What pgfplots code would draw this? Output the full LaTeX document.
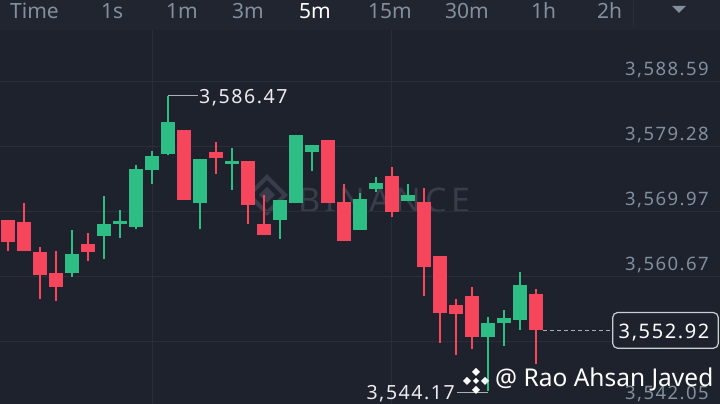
\documentclass[border=0pt]{standalone}
\usepackage{pgfplots}
\pgfplotsset{compat=1.18}
\usepackage{pgfplotstable}
\usepackage{fontspec}
\setmainfont{Noto Sans}
\newfontfamily\pf[LetterSpace=8]{Noto Sans}
\newfontfamily\wf[LetterSpace=12]{Noto Sans}
\definecolor{bg}{RGB}{30,34,45}
\definecolor{barbg}{RGB}{33,37,47}
\definecolor{gridc}{RGB}{42,46,57}
\definecolor{lab}{RGB}{132,142,156}
\definecolor{gup}{RGB}{46,189,133}
\definecolor{gdn}{RGB}{246,70,93}
\definecolor{wtxt}{RGB}{234,236,239}
\definecolor{wm}{RGB}{56,61,73}
\definecolor{ann}{RGB}{170,176,186}

\pgfplotstableread{
x open high low close
72 3561.10 3567.26 3560.53 3563.82
104 3566.40 3572.13 3563.10 3568.12
120 3568.12 3570.12 3566.11 3568.55
136 3567.69 3576.57 3567.40 3575.99
152 3575.85 3578.57 3573.85 3577.86
168 3578.14 3586.47 3578.00 3582.73
200 3571.12 3577.43 3567.40 3577.43
232 3576.71 3579.00 3572.99 3577.14
280 3568.69 3571.55 3565.97 3571.55
296 3571.12 3580.86 3571.12 3580.86
312 3578.43 3579.43 3575.71 3579.43
360 3567.26 3572.56 3567.26 3571.70
376 3573.13 3574.85 3572.70 3573.99
408 3571.41 3573.85 3571.41 3572.27
488 3551.93 3554.80 3544.17 3553.94
504 3553.94 3555.80 3550.64 3554.65
520 3554.37 3561.24 3552.93 3559.38
}\greentab

\pgfplotstableread{
x open high low close
8 3568.69 3568.69 3564.25 3565.58
24 3568.40 3571.12 3564.29 3564.29
40 3564.11 3564.82 3557.37 3560.81
56 3561.10 3564.25 3557.09 3559.09
88 3565.25 3566.83 3562.82 3564.11
184 3581.58 3581.58 3571.55 3571.55
216 3578.43 3579.86 3575.28 3577.57
248 3577.14 3577.14 3568.12 3570.84
264 3568.12 3572.27 3566.54 3566.54
328 3580.15 3580.15 3571.12 3571.12
344 3571.27 3573.85 3565.68 3565.68
392 3574.99 3576.28 3569.12 3569.84
424 3571.27 3573.27 3557.80 3561.96
440 3563.50 3563.50 3551.07 3555.37
456 3556.51 3557.37 3549.40 3555.23
472 3557.80 3559.09 3550.21 3551.93
536 3558.09 3558.81 3548.06 3552.92
}\redtab

\pgfplotsset{candle/.style={only marks, draw=none, fill=none, mark=none, mark size=0pt,
  mark options={draw opacity=0, fill opacity=0},
  error bars/.cd, y dir=plus, y explicit, error mark=none}}

\begin{document}
\begin{tikzpicture}
\useasboundingbox (0,0) rectangle (720bp,404bp);
\fill[bg] (0,0) rectangle (720bp,404bp);
% faint watermark
\begin{scope}[x=1bp,y=-1bp,shift={(0,404bp)}]
  \draw[wm, line width=4bp] (267,177) -- (285,195) -- (267,213) -- (249,195) -- cycle;
  \fill[wm] (267,187) -- (275,195) -- (267,203) -- (259,195) -- cycle;
  \node[anchor=base west, inner sep=0pt, text=wm, font=\wf\bfseries\fontsize{34bp}{36bp}\selectfont] at (298,213) {BINANCE};
\end{scope}

\begin{axis}[at={(0,0)}, anchor=south west,
  width=720bp, height=404bp, scale only axis,
  xmin=0, xmax=720, ymin=3542.34, ymax=3600.20,
  axis line style={draw=none},
  major tick length=0pt,
  xtick={152.7,391.7}, ytick={3588.59,3579.28,3569.97,3560.67,3551.36},
  xticklabels={}, yticklabels={},
  grid=major, grid style={draw=gridc, line width=0.8bp},
]
% wicks
\addplot[candle, error bar style={draw=gup, line width=1.5bp}]
  table[x=x, y=low, y error plus expr=\thisrow{high}-\thisrow{low}] {\greentab};
\addplot[candle, error bar style={draw=gdn, line width=1.5bp}]
  table[x=x, y=low, y error plus expr=\thisrow{high}-\thisrow{low}] {\redtab};
% bodies
\addplot[candle, error bar style={draw=gup, line width=14bp}]
  table[x=x, y=open, y error plus expr=\thisrow{close}-\thisrow{open}] {\greentab};
\addplot[candle, error bar style={draw=gdn, line width=14bp}]
  table[x=x, y=close, y error plus expr=\thisrow{open}-\thisrow{close}] {\redtab};
\end{axis}

\begin{scope}[x=1bp,y=-1bp,shift={(0,404bp)}]
  % top bar
  \fill[barbg] (0,0) rectangle (720,30);
  \draw[gridc, line width=1bp] (633,1) -- (633,27);
  \fill[lab] (672,6) -- (686,6) -- (679,13) -- cycle;
  \begin{scope}[every node/.style={anchor=base west, inner sep=0pt, text=lab, font=\fontsize{21bp}{24bp}\selectfont}]
    \node at (10,19) {Time};
    \node at (101,19) {1s};
    \node at (166,19) {1m};
    \node at (232,19) {3m};
    \node[text=white, font=\bfseries\fontsize{21bp}{24bp}\selectfont] at (299,19) {5m};
    \node at (368,19) {15m};
    \node at (445,19) {30m};
    \node at (531,19) {1h};
    \node at (597,19) {2h};
  \end{scope}
  % price labels
  \begin{scope}[every node/.style={anchor=base east, inner sep=0pt, text=lab, font=\pf\fontsize{18.5bp}{20bp}\selectfont}]
    \node at (709,75.7) {3,588.59};
    \node at (709,141) {3,579.28};
    \node at (709,206) {3,569.97};
    \node at (709,271) {3,560.67};
    \node at (709,399.5) {3,542.05};
  \end{scope}
  % high / low annotations
  \draw[ann, line width=1bp] (168,95.8) -- (197.5,95.8);
  \node[anchor=base west, inner sep=0pt, text=wtxt, font=\pf\fontsize{19.5bp}{22bp}\selectfont] at (199,104) {3,586.47};
  \draw[ann, line width=1bp] (456.5,392.5) -- (488,392.5);
  \node[anchor=base east, inner sep=0pt, text=wtxt, font=\pf\fontsize{19.5bp}{22bp}\selectfont] at (455,399.3) {3,544.17};
  % current price
  \draw[ann, line width=1.2bp, dash pattern=on 4bp off 3bp] (543,330.7) -- (612,330.7);
  \draw[wtxt!85!bg, fill=bg, line width=1.2bp, rounded corners=5bp] (612.7,312.5) rectangle (718.3,348.3);
  \node[anchor=base east, inner sep=0pt, text=white, font=\pf\fontsize{20bp}{22bp}\selectfont] at (709.5,338.3) {3,552.92};
  % author watermark
  \fill[white] (476,368) -- (480,372) -- (476,376) -- (472,372) -- cycle;
  \fill[white] (476,386) -- (480,390) -- (476,394) -- (472,390) -- cycle;
  \fill[white] (467,377) -- (471,381) -- (467,385) -- (463,381) -- cycle;
  \fill[white] (485,377) -- (489,381) -- (485,385) -- (481,381) -- cycle;
  \fill[white] (476,378) -- (479,381) -- (476,384) -- (473,381) -- cycle;
  \node[anchor=base west, inner sep=0pt, text=white, font=\fontsize{24.5bp}{27bp}\selectfont] at (495,387) {@ Rao Ahsan Javed};
\end{scope}
\end{tikzpicture}
\end{document}
